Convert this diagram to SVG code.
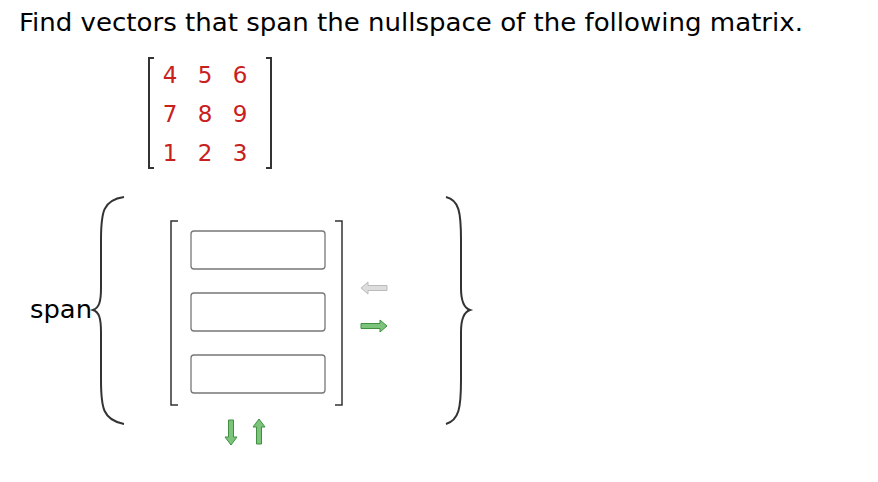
<svg xmlns="http://www.w3.org/2000/svg" width="878" height="482" viewBox="0 0 878 482">
<style>
text{font-family:Verdana,"DejaVu Sans",sans-serif}
.t{font-size:24px;fill:#000}
.n{font-size:23px;fill:#c8201c;text-anchor:middle}
.br{fill:none;stroke:#333;stroke-width:2}
.bx{fill:#fff;stroke:#777;stroke-width:1.3}
.g{fill:#7cc47c;stroke:#3f8f3f;stroke-width:1}
.gr{fill:#ddd;stroke:#bbb;stroke-width:1}
</style>
<rect width="878" height="482" fill="#fff"/>
<text class="t" x="19" y="31" textLength="784" lengthAdjust="spacingAndGlyphs">Find vectors that span the nullspace of the following matrix.</text>
<g id="matrix">
<path class="br" d="M154,58 H149 V168 H154 M266,58 H271 V168 H266"/>
<text class="n" x="170" y="83">4</text><text class="n" x="205" y="83">5</text><text class="n" x="240" y="83">6</text>
<text class="n" x="170" y="122">7</text><text class="n" x="205" y="122">8</text><text class="n" x="240" y="122">9</text>
<text class="n" x="170" y="161">1</text><text class="n" x="205" y="161">2</text><text class="n" x="240" y="161">3</text>
</g>
<g id="span">
<text class="t" x="30" y="318" textLength="62" lengthAdjust="spacingAndGlyphs">span</text>
<path class="br" d="M124,197 C103,200 101,212 101,240 V288 C101,302 99,308 93,310 C99,312 101,318 101,332 V380 C101,408 103,420 124,424"/>
<path class="br" d="M446,197 C459,200 461,212 461,240 V288 C461,302 464,308 470,310 C464,312 461,318 461,332 V380 C461,408 459,420 446,424"/>
</g>
<g id="vector">
<path class="br" style="stroke-width:1.5" d="M178,221 H171 V405 H178 M335,221 H342 V405 H335"/>
<rect class="bx" x="191" y="231" width="134" height="38" rx="3"/>
<rect class="bx" x="191" y="293" width="134" height="38" rx="3"/>
<rect class="bx" x="191" y="355" width="134" height="38" rx="3"/>
</g>
<g id="buttons">
<path class="gr" d="M361,288 L368,282 V285.5 H387 V290.5 H368 V294 Z"/>
<path class="g" d="M387,326 L380,320 V323.5 H361 V328.5 H380 V332 Z"/>
<path class="g" d="M231,445 L225,437 H228.5 V420 H233.5 V437 H237 Z"/>
<path class="g" d="M259,419 L253,427 H256.5 V444 H261.5 V427 H265 Z"/>
</g>
</svg>
